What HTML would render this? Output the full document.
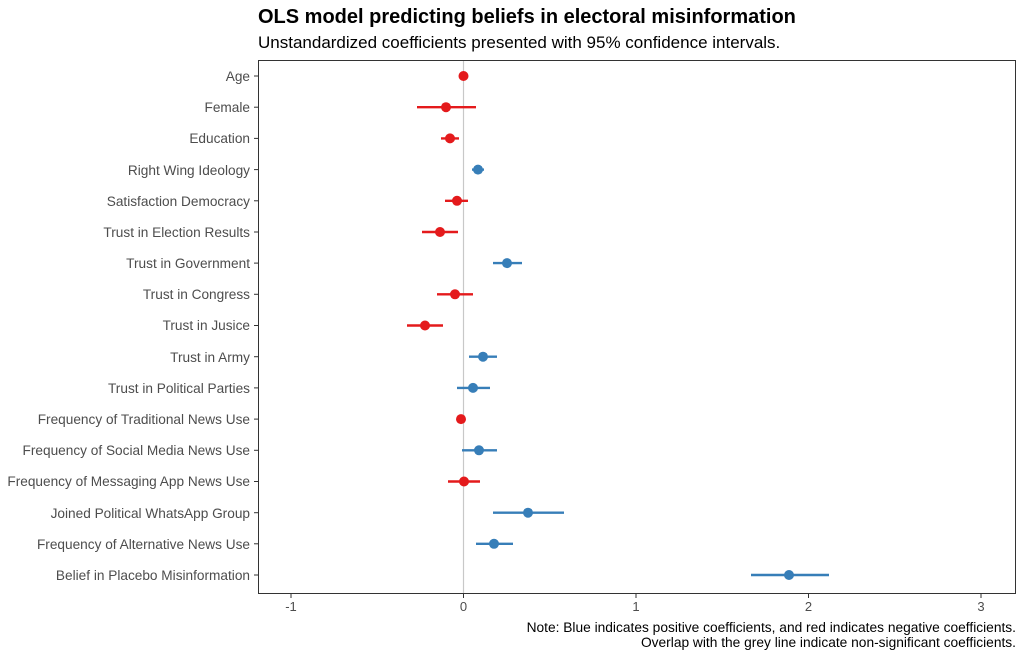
<!DOCTYPE html>
<html><head><meta charset="utf-8"><style>
html,body{margin:0;padding:0;background:#fff;}
svg{display:block;font-family:"Liberation Sans",Arial,sans-serif;}
</style></head><body>
<svg width="1024" height="658" viewBox="0 0 1024 658" xmlns="http://www.w3.org/2000/svg">
<text x="258" y="23" font-size="20" font-weight="bold" fill="#000">OLS model predicting beliefs in electoral misinformation</text>
<text x="258" y="48" font-size="17" fill="#000">Unstandardized coefficients presented with 95% confidence intervals.</text>
<rect x="258.5" y="60.5" width="757" height="533" fill="#fff" stroke="#333" stroke-width="1"/>
<line x1="463.5" y1="61" x2="463.5" y2="593" stroke="#c8c8c8" stroke-width="1.2"/>
<g stroke="#333" stroke-width="1">
<line x1="291" y1="594" x2="291" y2="598"/><line x1="463.5" y1="594" x2="463.5" y2="598"/><line x1="636" y1="594" x2="636" y2="598"/><line x1="808.5" y1="594" x2="808.5" y2="598"/><line x1="981" y1="594" x2="981" y2="598"/>
</g>
<g font-size="13" fill="#4d4d4d" text-anchor="middle">
<text x="291" y="611">-1</text><text x="463.5" y="611">0</text><text x="636" y="611">1</text><text x="808.5" y="611">2</text><text x="981" y="611">3</text>
</g>
<g font-size="13.65" fill="#4d4d4d" text-anchor="end">
<text x="250" y="81">Age</text>
<text x="250" y="112">Female</text>
<text x="250" y="143">Education</text>
<text x="250" y="175">Right Wing Ideology</text>
<text x="250" y="206">Satisfaction Democracy</text>
<text x="250" y="237">Trust in Election Results</text>
<text x="250" y="268">Trust in Government</text>
<text x="250" y="299">Trust in Congress</text>
<text x="250" y="330">Trust in Jusice</text>
<text x="250" y="362">Trust in Army</text>
<text x="250" y="393">Trust in Political Parties</text>
<text x="250" y="424">Frequency of Traditional News Use</text>
<text x="250" y="455">Frequency of Social Media News Use</text>
<text x="250" y="486">Frequency of Messaging App News Use</text>
<text x="250" y="518">Joined Political WhatsApp Group</text>
<text x="250" y="549">Frequency of Alternative News Use</text>
<text x="250" y="580">Belief in Placebo Misinformation</text>
</g>
<g stroke="#333" stroke-width="1">
<line x1="254" y1="76" x2="258" y2="76"/><line x1="254" y1="107.2" x2="258" y2="107.2"/><line x1="254" y1="138.4" x2="258" y2="138.4"/><line x1="254" y1="169.6" x2="258" y2="169.6"/><line x1="254" y1="200.8" x2="258" y2="200.8"/><line x1="254" y1="232" x2="258" y2="232"/><line x1="254" y1="263.1" x2="258" y2="263.1"/><line x1="254" y1="294.3" x2="258" y2="294.3"/><line x1="254" y1="325.5" x2="258" y2="325.5"/><line x1="254" y1="356.7" x2="258" y2="356.7"/><line x1="254" y1="387.9" x2="258" y2="387.9"/><line x1="254" y1="419.1" x2="258" y2="419.1"/><line x1="254" y1="450.3" x2="258" y2="450.3"/><line x1="254" y1="481.5" x2="258" y2="481.5"/><line x1="254" y1="512.7" x2="258" y2="512.7"/><line x1="254" y1="543.8" x2="258" y2="543.8"/><line x1="254" y1="575" x2="258" y2="575"/>
</g>
<g stroke-width="2.4">
<g stroke="#E41A1C" fill="#E41A1C">
<line x1="461" y1="76" x2="466" y2="76"/><circle cx="463.5" cy="76" r="5" stroke="none"/>
<line x1="417" y1="107.2" x2="476" y2="107.2"/><circle cx="446" cy="107.2" r="5" stroke="none"/>
<line x1="441" y1="138.4" x2="459" y2="138.4"/><circle cx="450" cy="138.4" r="5" stroke="none"/>
<line x1="445" y1="200.8" x2="468" y2="200.8"/><circle cx="457" cy="200.8" r="5" stroke="none"/>
<line x1="422" y1="232" x2="458" y2="232"/><circle cx="440" cy="232" r="5" stroke="none"/>
<line x1="437" y1="294.3" x2="473" y2="294.3"/><circle cx="455" cy="294.3" r="5" stroke="none"/>
<line x1="407" y1="325.5" x2="443" y2="325.5"/><circle cx="425" cy="325.5" r="5" stroke="none"/>
<line x1="457" y1="419.1" x2="465" y2="419.1"/><circle cx="461" cy="419.1" r="5" stroke="none"/>
<line x1="448" y1="481.5" x2="480" y2="481.5"/><circle cx="464" cy="481.5" r="5" stroke="none"/>
</g>
<g stroke="#377EB8" fill="#377EB8">
<line x1="472" y1="169.6" x2="484" y2="169.6"/><circle cx="478" cy="169.6" r="5" stroke="none"/>
<line x1="493" y1="263.1" x2="522" y2="263.1"/><circle cx="507" cy="263.1" r="5" stroke="none"/>
<line x1="469" y1="356.7" x2="497" y2="356.7"/><circle cx="483" cy="356.7" r="5" stroke="none"/>
<line x1="457" y1="387.9" x2="490" y2="387.9"/><circle cx="473" cy="387.9" r="5" stroke="none"/>
<line x1="462" y1="450.3" x2="497" y2="450.3"/><circle cx="479" cy="450.3" r="5" stroke="none"/>
<line x1="493" y1="512.7" x2="564" y2="512.7"/><circle cx="528" cy="512.7" r="5" stroke="none"/>
<line x1="476" y1="543.8" x2="513" y2="543.8"/><circle cx="494" cy="543.8" r="5" stroke="none"/>
<line x1="751" y1="575" x2="829" y2="575"/><circle cx="789" cy="575" r="5" stroke="none"/>
</g>
</g>
<g font-size="13.75" fill="#000" text-anchor="end">
<text x="1016" y="632">Note: Blue indicates positive coefficients, and red indicates negative coefficients.</text>
<text x="1016" y="647">Overlap with the grey line indicate non-significant coefficients.</text>
</g>
</svg>
</body></html>
